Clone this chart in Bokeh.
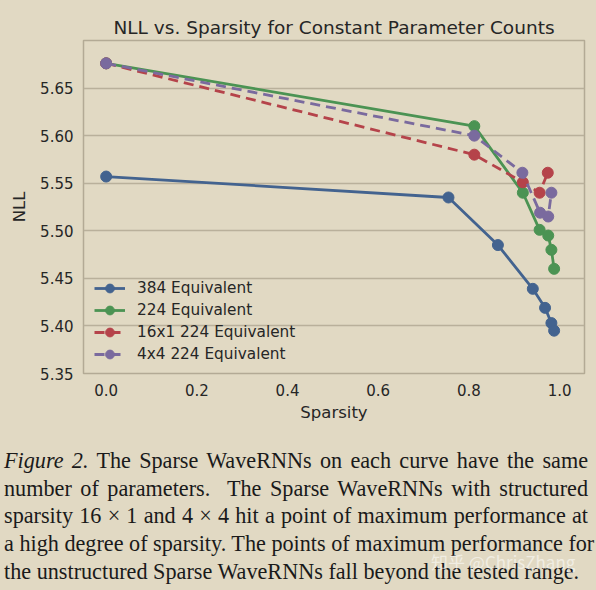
from bokeh.plotting import figure
from bokeh.models import (FixedTicker, Legend, LegendItem, Div, CustomJSTickFormatter)
from bokeh.layouts import column
from bokeh.embed import file_html
from bokeh.resources import INLINE

# ---------------- data ----------------
sparsity_384 = [0.0, 0.755, 0.864, 0.941, 0.968, 0.982, 0.988]
nll_384 = [5.557, 5.535, 5.485, 5.439, 5.419, 5.403, 5.395]

sparsity_224 = [0.0, 0.812, 0.919, 0.956, 0.975, 0.982, 0.988]
nll_224 = [5.676, 5.610, 5.540, 5.501, 5.495, 5.480, 5.460]

sparsity_16x1 = [0.0, 0.812, 0.919, 0.956, 0.974]
nll_16x1 = [5.676, 5.580, 5.551, 5.540, 5.561]

sparsity_4x4 = [0.0, 0.812, 0.918, 0.957, 0.975, 0.982]
nll_4x4 = [5.676, 5.600, 5.561, 5.519, 5.515, 5.540]

series_labels = ["384 Equivalent", "224 Equivalent", "16x1 224 Equivalent", "4x4 224 Equivalent"]
x_ticks = [0.0, 0.2, 0.4, 0.6, 0.8, 1.0]
y_ticks = [5.35, 5.40, 5.45, 5.50, 5.55, 5.60, 5.65]

title_text = "NLL vs. Sparsity for Constant Parameter Counts"
x_label = "Sparsity"
y_label = "NLL"

# ---------------- style ----------------
BG = "#e1d9c3"
TEXT = "#262626"
GRID = "#b9b09b"
FRAME = "#b3aa95"
colors = ["#43638f", "#4b9353", "#b5434a", "#7a6a9e"]
dashes = ["solid", "solid", "10 6", "10 6"]
FONT = "DejaVu Sans"

p = figure(width=596, height=436, x_range=(-0.05, 1.055), y_range=(5.35, 5.70),
           output_backend="svg", toolbar_location=None,
           background_fill_color=BG, border_fill_color=BG,
           min_border_left=83, min_border_right=12, min_border_top=40, min_border_bottom=63)

p.title.text = title_text
p.title.align = "center"
p.title.text_font = FONT
p.title.text_font_size = "18.5px"
p.title.text_font_style = "normal"
p.title.text_color = TEXT
p.title.standoff = 6

p.outline_line_color = FRAME
p.outline_line_width = 1.5

p.xgrid.grid_line_color = None
p.ygrid.grid_line_color = GRID
p.ygrid.grid_line_width = 1.3

for ax in (p.xaxis[0], p.yaxis[0]):
    ax.axis_line_color = None
    ax.major_tick_line_color = None
    ax.minor_tick_line_color = None
    ax.major_tick_out = 0
    ax.major_tick_in = 0
    ax.minor_tick_out = 0
    ax.minor_tick_in = 0
    ax.major_label_text_font = FONT
    ax.major_label_text_font_size = "15px"
    ax.major_label_text_color = TEXT
    ax.axis_label_text_font = FONT
    ax.axis_label_text_font_size = "16.5px"
    ax.axis_label_text_font_style = "normal"
    ax.axis_label_text_color = TEXT

p.xaxis.ticker = FixedTicker(ticks=x_ticks)
p.yaxis.ticker = FixedTicker(ticks=y_ticks)
p.xaxis.formatter = CustomJSTickFormatter(code="return tick.toFixed(1);")
p.yaxis.formatter = CustomJSTickFormatter(code="return tick.toFixed(2);")
p.xaxis.axis_label = x_label
p.yaxis.axis_label = y_label
p.xaxis.major_label_standoff = 10
p.yaxis.major_label_standoff = 10
p.xaxis.axis_label_standoff = 4
p.yaxis.axis_label_standoff = 8

xs = [sparsity_384, sparsity_224, sparsity_16x1, sparsity_4x4]
ys = [nll_384, nll_224, nll_16x1, nll_4x4]

items = []
for x, y, c, d, lab in zip(xs, ys, colors, dashes, series_labels):
    r1 = p.line(x, y, line_color=c, line_width=2.8, line_dash=d)
    r2 = p.scatter(x, y, size=11, fill_color=c, line_color=c, marker="circle")
    items.append(LegendItem(label=lab, renderers=[r1, r2]))

legend = Legend(items=items, location=(11, 8), padding=0, margin=0, spacing=0,
                label_height=22, glyph_height=22, glyph_width=31, label_standoff=12,
                background_fill_alpha=0, border_line_color=None,
                label_text_font=FONT, label_text_font_size="15.3px", label_text_color=TEXT)
p.add_layout(legend, "center")

# ---------------- caption ----------------
caption_lines = [
    "<i>Figure 2.</i> The Sparse WaveRNNs on each curve have the same",
    "number of parameters.&nbsp; The Sparse WaveRNNs with structured",
    "sparsity 16 &times; 1 and 4 &times; 4 hit a point of maximum performance at",
    "a high degree of sparsity. The points of maximum performance for",
    "the unstructured Sparse WaveRNNs fall beyond the tested range.",
]
parts = []
for i, line in enumerate(caption_lines):
    last = i == len(caption_lines) - 1
    align = "text-align:left;" if last else "text-align:justify;text-align-last:justify;"
    parts.append(f'<div style="{align}white-space:nowrap;">{line}</div>')
watermark = ('<div style="position:absolute;left:427px;top:114px;font-family:\'Noto Sans CJK SC\',sans-serif;'
             'font-size:17px;line-height:24px;color:rgba(255,255,255,0.55);white-space:nowrap;">知乎 @ChrisZhang</div>')
caption_html = ('<div style="position:relative;width:584px;margin-left:4px;padding-top:11px;'
                f'background:{BG};color:#1a1a1a;font-family:\'Liberation Serif\',serif;'
                'font-size:22.2px;line-height:27.7px;">' + "".join(parts) + watermark + '</div>')
cap = Div(text=caption_html, width=596, height=154,
          styles={"background-color": BG, "margin": "0", "padding": "0"})

layout = column(p, cap, spacing=0, styles={"background-color": BG})

open("out.html", "w").write(file_html(layout, INLINE))
